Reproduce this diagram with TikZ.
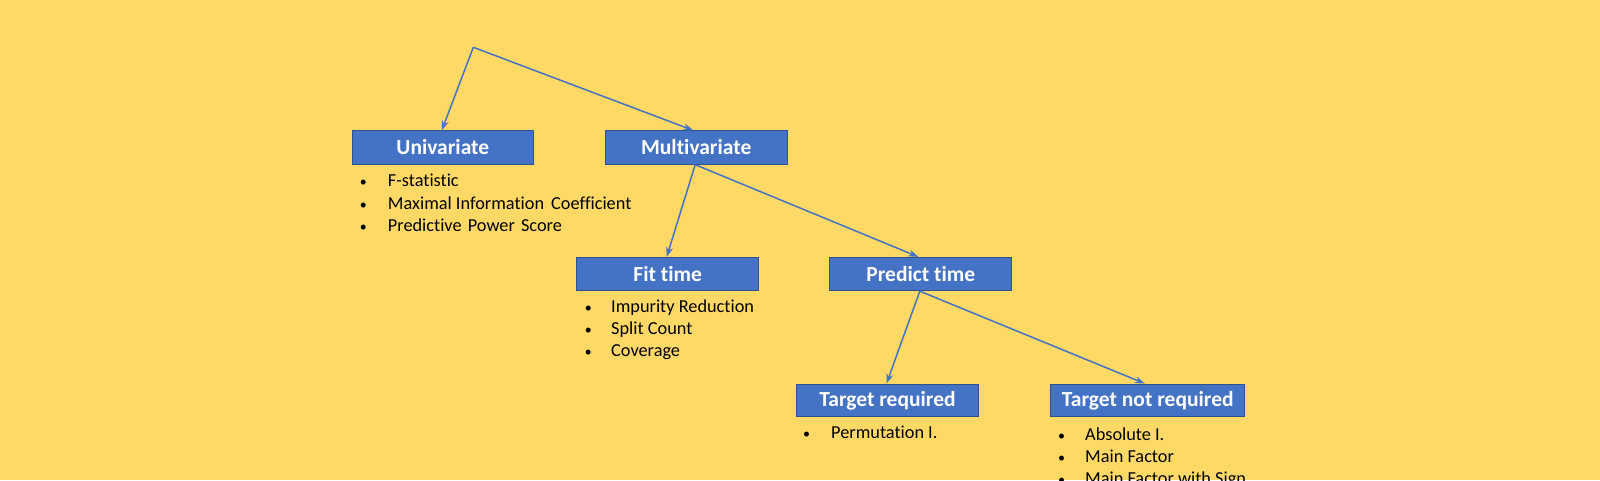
\documentclass[tikz,border=0pt]{standalone}
\usepackage{fontspec}
\setmainfont{Carlito}[Ligatures={NoCommon}]
\usetikzlibrary{arrows.meta}
\definecolor{bg}{HTML}{FFD966}
\definecolor{boxblue}{HTML}{4472C4}
\definecolor{boxedge}{HTML}{2F528F}
\begin{document}
\begin{tikzpicture}[x=1pt,y=-1pt,
  box/.style={draw=boxedge, line width=0.8pt, fill=boxblue, text=white,
    font=\fontsize{21.5}{24}\selectfont\bfseries, minimum height=33.5pt, inner sep=0pt},
  link/.style={draw=boxblue, line width=1.5pt, -{Stealth[length=10pt,width=7pt]}},
  item/.style={anchor=base west, inner sep=0pt, font=\fontsize{18.3}{22}\selectfont},
  dot/.style={anchor=base, inner sep=0pt, font=\fontsize{14}{22}\selectfont}]
\useasboundingbox (0,0) rectangle (1600,480);
\clip (0,0) rectangle (1600,480);
\fill[bg] (0,0) rectangle (1600,480);

\coordinate (root) at (473.3,47.3);
\node[box, minimum width=181pt] (uni) at (442.8,147.5) {Univariate};
\node[box, minimum width=182pt] (mult) at (696.2,147.5) {Multivariate};
\node[box, minimum width=182pt] (fit) at (667.7,274) {Fit time};
\node[box, minimum width=182pt] (pred) at (920.8,274) {Predict time};
\node[box, minimum width=182pt, minimum height=32.7pt] (treq) at (887.5,400.3) {Target required};
\node[box, minimum width=194pt, minimum height=32.7pt] (tnreq) at (1147.8,400.3) {Target not required};

\draw[link] (root) -- ([xshift=-1pt]uni.north);
\draw[link] (root) -- ([xshift=-3pt]mult.north);
\draw[link] ([xshift=-1pt]mult.south) -- ([xshift=-1pt]fit.north);
\draw[link] ([xshift=-1pt]mult.south) -- ([xshift=-2.5pt]pred.north);
\draw[link] ([xshift=-1pt]pred.south) -- ([xshift=-1pt]treq.north);
\draw[link] ([xshift=-1pt]pred.south) -- ([xshift=-3pt]tnreq.north);

% Univariate items
\node[dot] (ub1) at (363.3,186.7) {•};
\node[item] (ut1) at (387.7,186.7) {F-statistic};
\node[dot] (ub2) at (363.3,209) {•};
\node[item] (ut2) at (387.7,209) {Maximal Information\hspace{3pt} Coefficient};
\node[dot] (ub3) at (363.3,231) {•};
\node[item] (ut3) at (387.7,231) {Predictive\hspace{2pt} Power\hspace{2pt} Score};

% Fit time items
\node[dot] (fb1) at (588.3,312.3) {•};
\node[item] (ft1) at (611,312.3) {Impurity Reduction};
\node[dot] (fb2) at (588.3,334.3) {•};
\node[item] (ft2) at (611,334.3) {Split Count};
\node[dot] (fb3) at (588.3,356) {•};
\node[item] (ft3) at (611,356) {Coverage};

% Target required items
\node[dot] (rb1) at (806.7,438.3) {•};
\node[item] (rt1) at (831,438.3) {Permutation I.};

% Target not required items
\node[dot] (nb1) at (1061.7,440.7) {•};
\node[item] (nt1) at (1085,440.7) {Absolute I.};
\node[dot] (nb2) at (1061.7,462.7) {•};
\node[item] (nt2) at (1085,462.7) {Main Factor};
\node[dot] (nb3) at (1061.7,484.7) {•};
\node[item] (nt3) at (1085,484.7) {Main Factor with Sign};
\end{tikzpicture}
\end{document}
